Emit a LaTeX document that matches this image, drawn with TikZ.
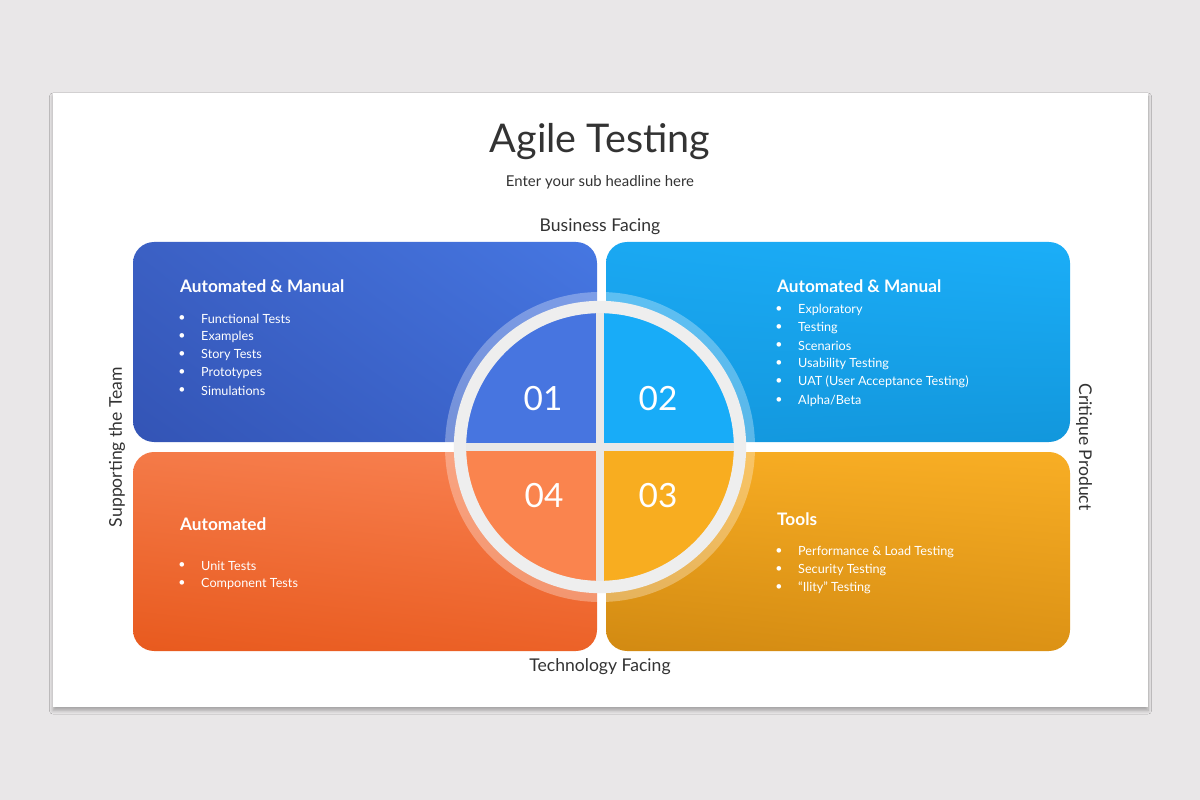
\documentclass[tikz,border=0pt]{standalone}
\usepackage{fontspec}
\setmainfont{Lato}
\usetikzlibrary{shadows.blur,shadings}
\definecolor{bg}{HTML}{E9E7E8}
\definecolor{txt}{HTML}{333333}
\definecolor{aLL}{HTML}{3354B5}\definecolor{aUL}{HTML}{3B60C4}\definecolor{aUR}{HTML}{4677E2}\definecolor{aLR}{HTML}{3E69D2}
\definecolor{bLL}{HTML}{1499E0}\definecolor{bUL}{HTML}{1AA8F2}\definecolor{bUR}{HTML}{1BAEF8}\definecolor{bLR}{HTML}{1297DC}
\definecolor{cLL}{HTML}{E85A1E}\definecolor{cUL}{HTML}{F47A48}\definecolor{cUR}{HTML}{F98050}\definecolor{cLR}{HTML}{EC6228}
\definecolor{dLL}{HTML}{D28A12}\definecolor{dUL}{HTML}{F6AB22}\definecolor{dUR}{HTML}{F8AE25}\definecolor{dLR}{HTML}{DC9215}
\definecolor{i1}{HTML}{4775E0}\definecolor{i2}{HTML}{18ACF8}\definecolor{i4}{HTML}{FA844E}\definecolor{i3}{HTML}{F8AD20}
\definecolor{crossc}{HTML}{E8E8E8}\definecolor{ringc}{HTML}{EEEEEE}
\tikzset{
 head/.style={anchor=west,text=white,font=\fontsize{9.8pt}{11pt}\selectfont\bfseries},
 item/.style={anchor=west,text=white,font=\fontsize{7.2pt}{8pt}\selectfont},
 dot/.style={anchor=center,text=white,font=\fontsize{7pt}{8pt}\selectfont},
 num/.style={text=white,font=\fontsize{19pt}{20pt}\selectfont},
 axis/.style={text=txt,font=\fontsize{10pt}{12pt}\selectfont},
 quad/.style={rounded corners=12pt}
}
\newcommand{\bul}[3]{\node[dot] at (182,#2) {•}; \node[item] (#3) at (195,#2) {#1};}
\newcommand{\bur}[3]{\node[dot] at (779,#2) {•}; \node[item] (#3) at (792,#2) {#1};}
\begin{document}
\begin{tikzpicture}[x=0.02cm,y=-0.02cm]
\fill[bg] (0,0) rectangle (1200,800);
\useasboundingbox (0,0) rectangle (1200,800);
\fill[white,blur shadow={shadow blur steps=8,shadow xshift=0pt,shadow yshift=-2pt,shadow opacity=30}] (53,93) rectangle (1148,707);
\node[text=txt,font=\fontsize{22.5pt}{24pt}\selectfont] (title) at (600,142) {Agile Testing};
\node[text=txt,font=\fontsize{8.5pt}{10pt}\selectfont] (sub) at (600,182) {Enter your sub headline here};
\node[axis] (bf) at (600,227) {Business Facing};
\node[axis] (tf) at (600,667) {Technology Facing};
\node[axis,rotate=90] (st) at (117,447) {Supporting the Team};
\node[axis,rotate=-90] (cp) at (1084,447) {Critique Product};
% quadrants
\shade[quad,lower left=aLL,upper left=aUL,upper right=aUR,lower right=aLR] (133,242) rectangle (597,442);
\shade[quad,lower left=bLL,upper left=bUL,upper right=bUR,lower right=bLR] (606,242) rectangle (1070,442);
\shade[quad,lower left=cLL,upper left=cUL,upper right=cUR,lower right=cLR] (133,452) rectangle (597,651);
\shade[quad,lower left=dLL,upper left=dUL,upper right=dUR,lower right=dLR] (606,452) rectangle (1070,651);
% circle
\fill[white,opacity=0.3] (600,447) circle (155);
\begin{scope}
\clip (600,447) circle (134);
\fill[i1] (466,313) rectangle (600,447);
\fill[i2] (600,313) rectangle (734,447);
\fill[i4] (466,447) rectangle (600,581);
\fill[i3] (600,447) rectangle (734,581);
\draw[crossc,line width=5.1pt] (600,300) -- (600,600) (450,447) -- (750,447);
\end{scope}
\draw[ringc,line width=7pt] (600,447) circle (140);
\node[num] (n1) at (543,399) {01};
\node[num] (n2) at (658,399) {02};
\node[num] (n4) at (544,496) {04};
\node[num] (n3) at (658,496) {03};
% TL
\node[head] (h1) at (174,286) {Automated \& Manual};
\bul{Functional Tests}{319}{a1}\bul{Examples}{337}{a2}\bul{Story Tests}{355}{a3}\bul{Prototypes}{373}{a4}\bul{Simulations}{391}{a5}
% TR
\node[head] (h2) at (771,286) {Automated \& Manual};
\bur{Exploratory}{310}{b1}\bur{Testing}{328}{b2}\bur{Scenarios}{346}{b3}\bur{Usability Testing}{364}{b4}\bur{UAT (User Acceptance Testing)}{382}{b5}\bur{Alpha/Beta}{401}{b6}
% BL
\node[head] (h4) at (174,524) {Automated};
\bul{Unit Tests}{566}{c1}\bul{Component Tests}{584}{c2}
% BR
\node[head] (h3) at (771,519) {Tools};
\bur{Performance \& Load Testing}{552}{d1}\bur{Security Testing}{570}{d2}\bur{“Ility” Testing}{588}{d3}
\end{tikzpicture}
\end{document}
